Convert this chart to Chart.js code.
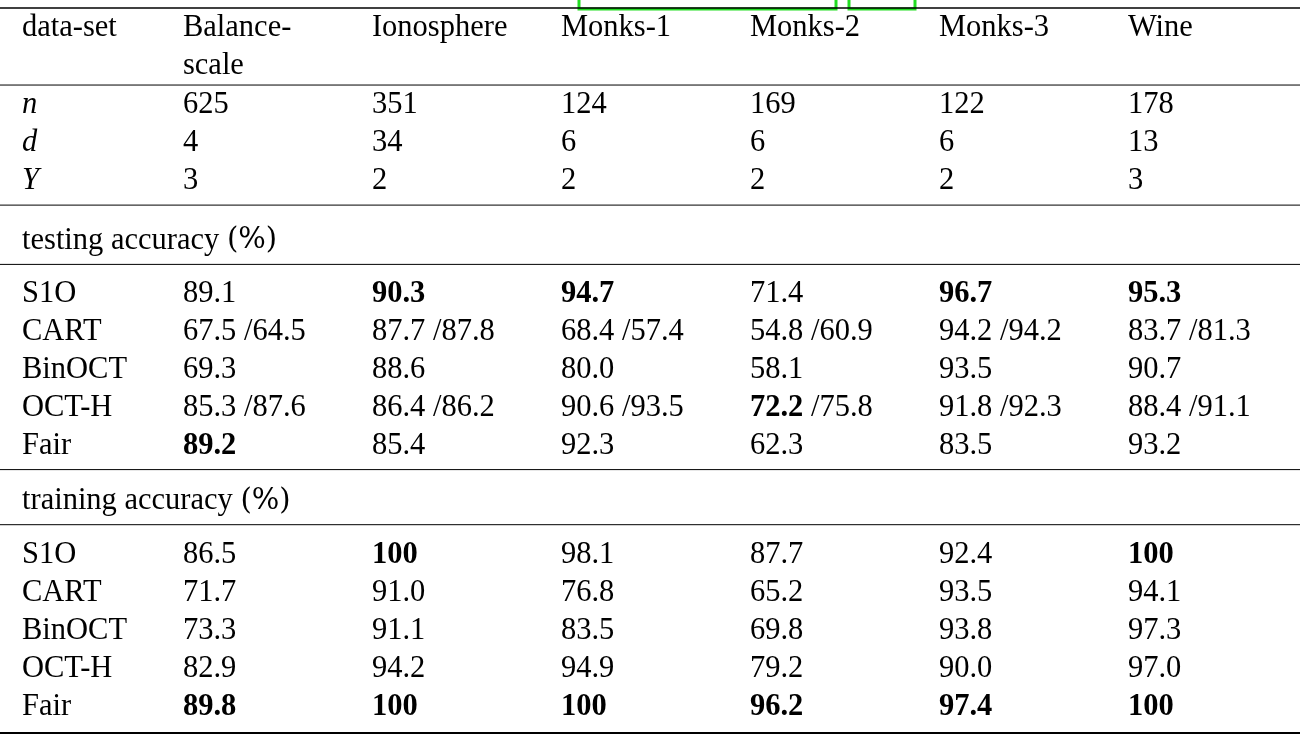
<!DOCTYPE html>
<html><head><meta charset="utf-8">
<script src="https://cdn.jsdelivr.net/npm/chart.js@4"></script>
<style>html,body{margin:0;padding:0;background:#fff}#w{width:1300px;height:737px}</style>
</head><body><div id="w"><canvas id="c"></canvas></div>
<script>
const columns = ["data-set","Balance-","Ionosphere","Monks-1","Monks-2","Monks-3","Wine"];
const headerLine2 = ["","scale","","","","",""];
const infoRows = [
  ["n","625","351","124","169","122","178"],
  ["d","4","34","6","6","6","13"],
  ["Y","3","2","2","2","2","3"]
];
const testingLabel = "testing accuracy (%)";
const testingRows = [
  ["S1O","89.1","**90.3**","**94.7**","71.4","**96.7**","**95.3**"],
  ["CART","67.5 /64.5","87.7 /87.8","68.4 /57.4","54.8 /60.9","94.2 /94.2","83.7 /81.3"],
  ["BinOCT","69.3","88.6","80.0","58.1","93.5","90.7"],
  ["OCT-H","85.3 /87.6","86.4 /86.2","90.6 /93.5","**72.2** /75.8","91.8 /92.3","88.4 /91.1"],
  ["Fair","**89.2**","85.4","92.3","62.3","83.5","93.2"]
];
const trainingLabel = "training accuracy (%)";
const trainingRows = [
  ["S1O","86.5","**100**","98.1","87.7","92.4","**100**"],
  ["CART","71.7","91.0","76.8","65.2","93.5","94.1"],
  ["BinOCT","73.3","91.1","83.5","69.8","93.8","97.3"],
  ["OCT-H","82.9","94.2","94.9","79.2","90.0","97.0"],
  ["Fair","**89.8**","**100**","**100**","**96.2**","**97.4**","**100**"]
];
// logical row positions
const headerY = [0, 1];
const infoY = [2.03, 3.03, 4.03];
const testingLabelY = 5.6;
const testingY = [7.0, 8.0, 9.0, 10.0, 11.0];
const trainingLabelY = 12.45;
const trainingY = [13.86, 14.86, 15.86, 16.86, 17.86];
const rules = [[-0.45,1.5],[1.58,1],[4.74,1],[6.3,1],[11.7,1],[13.15,1],[18.63,2]];

const rowsAll = [];
rowsAll.push({y:headerY[0], cells:columns});
rowsAll.push({y:headerY[1], cells:headerLine2});
infoRows.forEach((r,i)=>rowsAll.push({y:infoY[i], cells:r, italic0:true}));
rowsAll.push({y:testingLabelY, cells:[testingLabel]});
testingRows.forEach((r,i)=>rowsAll.push({y:testingY[i], cells:r}));
rowsAll.push({y:trainingLabelY, cells:[trainingLabel]});
trainingRows.forEach((r,i)=>rowsAll.push({y:trainingY[i], cells:r}));

const pts = [];
rowsAll.forEach(r=>r.cells.forEach((c,j)=>{ if(c) pts.push({x:j, y:r.y}); }));

const FONT = '"Liberation Serif","DejaVu Serif",serif';
const FS = '30.5px ';
const tablePlugin = {
  id:'table',
  afterDraw(chart){
    const ctx = chart.ctx, xs = chart.scales.x, ys = chart.scales.y;
    ctx.save();
    ctx.strokeStyle = '#22dd22'; ctx.lineWidth = 3;
    ctx.strokeRect(579, -10, 257, 19);
    ctx.strokeRect(849, -10, 66, 19);
    ctx.strokeStyle = '#000';
    rules.forEach(([v,w])=>{
      const py = ys.getPixelForValue(v);
      ctx.lineWidth = w; ctx.beginPath(); ctx.moveTo(0, py); ctx.lineTo(1300, py); ctx.stroke();
    });
    ctx.fillStyle = '#000'; ctx.textBaseline = 'middle';
    rowsAll.forEach(r=>{
      const py = ys.getPixelForValue(r.y) + 3;
      r.cells.forEach((c,j)=>{
        if(!c) return;
        let px = j===0 ? 22 : xs.getPixelForValue(j);
        if(j===0 && r.cells.length===1){
          const t = c.replace('(%)','');
          ctx.font = FS+FONT; ctx.fillText(t, px, py);
          px += ctx.measureText(t).width;
          ctx.font = '29px "DejaVu Serif",serif'; ctx.fillText('(%)', px, py);
          return;
        }
        const parts = c.split('**');
        parts.forEach((p,k)=>{
          if(!p) return;
          const bold = k%2===1;
          ctx.font = (r.italic0&&j===0?'italic ':'')+(bold?'bold ':'')+FS+FONT;
          ctx.fillText(p, px, py);
          px += ctx.measureText(p).width;
        });
      });
    });
    ctx.restore();
  }
};

new Chart(document.getElementById('c'), {
  type:'scatter',
  data:{datasets:[{data:pts, pointRadius:0, showLine:false}]},
  options:{
    responsive:true, maintainAspectRatio:false, animation:false,
    layout:{padding:0},
    plugins:{legend:{display:false}, tooltip:{enabled:false}},
    scales:{
      x:{type:'linear', min:0.032, max:0.032+1300/189, display:false},
      y:{type:'linear', reverse:true, min:-25/38, max:(737-25)/38, display:false}
    }
  },
  plugins:[tablePlugin]
});
</script></body></html>
